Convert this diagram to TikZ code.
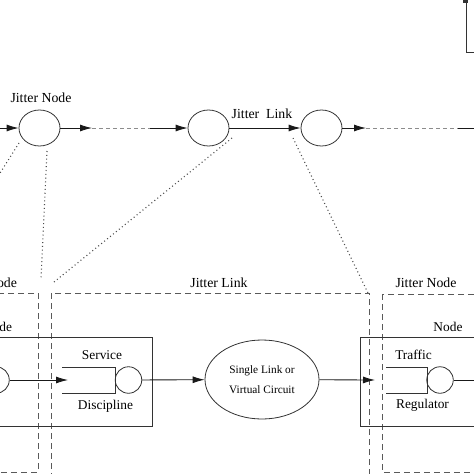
\documentclass[tikz,border=0pt]{standalone}
\usepackage{fontspec}
\setmainfont{Liberation Serif}
\usetikzlibrary{arrows.meta,shapes.geometric}
\begin{document}
\begin{tikzpicture}[x=1pt,y=-1pt,
  ln/.style={draw=black!90, line width=0.85pt},
  arr/.style={ln, -{Latex[length=12pt,width=7pt]}},
  jnode/.style={ellipse, draw=black!80, line width=0.8pt, minimum width=41pt, minimum height=36pt, inner sep=0pt},
  srv/.style={circle, draw=black!80, line width=0.8pt, minimum size=26.5pt, inner sep=0pt},
  lbl/.style={font=\fontsize{13.4}{16}\selectfont, inner sep=0pt},
  biglbl/.style={font=\fontsize{13.8}{16}\selectfont, inner sep=0pt},
  dotline/.style={draw=black!70, line width=1.1pt, dash pattern=on 1pt off 2.8pt},
  dashbox/.style={draw=black!65, line width=0.9pt, dash pattern=on 6pt off 4pt},
  graydash/.style={draw=black!45, line width=1pt, dash pattern=on 4pt off 3pt},
  boxline/.style={draw=black!80, line width=0.8pt}]
\useasboundingbox (0,0) rectangle (474,474);
\clip (0,0) rectangle (474,474);

% top-right partial frame
\draw[boxline] (466,0) -- (466,52) -- (480,52);
\fill[black!80] (463,0) rectangle (468,3);

% top row
\node[jnode] (e1) at (39.5,128) {};
\node[jnode] (e2) at (208.5,128) {};
\node[jnode] (e3) at (321.5,128) {};
\node[biglbl] (tjn) at (41,98) {Jitter Node};
\node[biglbl] (tjl) at (262,114) {Jitter\ \ Link};

\coordinate (in0) at (-20,128);
\coordinate (c1) at (92,128);
\coordinate (c2) at (150,128);
\coordinate (c3) at (366,128);
\coordinate (c4) at (458,128);
\coordinate (out0) at (490,128);

\draw[arr] (in0) -- (e1);
\draw[arr] (e1) -- (c1);
\draw[graydash] (c1) -- (c2);
\draw[arr] (c2) -- (e2);
\draw[arr] (e2) -- (e3);
\draw[arr] (e3) -- (c3);
\draw[graydash] (c3) -- (c4);
\draw[ln] (c4) -- (out0);

% dotted projection lines
\coordinate (d1a) at (19,143);  \coordinate (d1b) at (-10,189);
\coordinate (d2a) at (47,151);  \coordinate (d2b) at (41,279);
\coordinate (d3a) at (232,138); \coordinate (d3b) at (54,282);
\coordinate (d4a) at (293,138); \coordinate (d4b) at (368,293);
\draw[dotline] (d1a) -- (d1b);
\draw[dotline] (d2a) -- (d2b);
\draw[dotline] (d3a) -- (d3b);
\draw[dotline] (d4a) -- (d4b);

% dashed jitter boxes
\draw[dashbox] (-100,293) rectangle (38,472);
\draw[dashbox] (51,293) rectangle (369,520);
\draw[dashbox] (382,294) rectangle (600,472);
\node[biglbl] (ljn) at (-13.5,283) {Jitter Node};
\node[biglbl] (mjl) at (219,283) {Jitter Link};
\node[biglbl] (rjn) at (426,283) {Jitter Node};

% solid node boxes
\draw[boxline] (-150,337) rectangle (152,426);
\draw[boxline] (360,337) rectangle (600,426);
\node[lbl] (lnode) at (-2.5,327) {Node};
\node[lbl] (rnode) at (448,327) {Node};

% left node internals
\node[srv] (s0) at (-4,380) {};
\coordinate (q1tip) at (68,380);
\draw[arr] (s0) -- (q1tip);
\draw[boxline] (62,367) -- (115,367) -- (115,393) -- (62,393);
\node[srv] (s1) at (128.5,380) {};
\node[lbl] (svc) at (102,355) {Service};
\node[lbl] (dsc) at (105.5,406) {Discipline};

% link ellipse
\node[ellipse, draw=black!80, line width=0.8pt, minimum width=114pt, minimum height=79pt, inner sep=0pt,
      align=center, font=\fontsize{11.3}{20}\selectfont] (link) at (262,379.5) {Single Link or\\Virtual Circuit};
\draw[arr] (s1) -- (link);
\coordinate (q2tip) at (375,380);
\draw[arr] (link) -- (q2tip);

% right node internals
\draw[boxline] (386,367) -- (427,367) -- (427,393) -- (386,393);
\node[srv] (s2) at (440,380) {};
\coordinate (out1) at (490,380);
\draw[ln] (s2) -- (out1);
\node[lbl] (trf) at (413.5,355) {Traffic};
\node[lbl] (reg) at (422.5,405) {Regulator};
\end{tikzpicture}
\end{document}
